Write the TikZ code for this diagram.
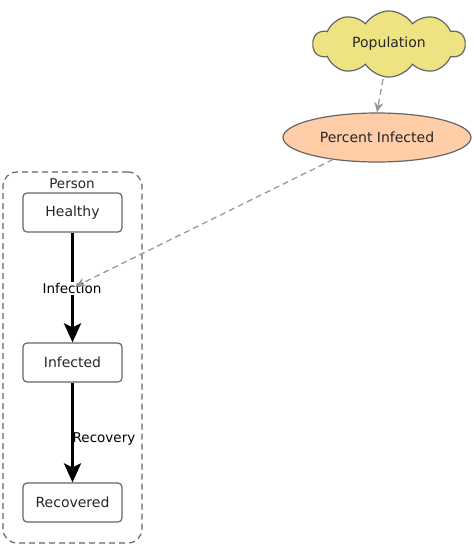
\documentclass[tikz,border=0pt]{standalone}
\usepackage{fontspec}
\setmainfont{DejaVu Sans}
\usetikzlibrary{shapes.symbols,shapes.geometric,arrows.meta,calc}
\definecolor{cloudfill}{HTML}{EEE382}
\definecolor{peach}{HTML}{FFCDA8}
\definecolor{edgegray}{HTML}{666666}
\definecolor{dashgray}{HTML}{999999}
\tikzset{
  txt/.style={font=\fontsize{14}{16}\selectfont, text=black!85},
  statebox/.style={txt, draw=edgegray, line width=1.2pt, rounded corners=4pt, minimum width=99pt, minimum height=39pt, fill=white},
  flow/.style={line width=3pt, -{Stealth[length=19pt,width=17pt,inset=4pt]}},
  influence/.style={draw=dashgray, line width=1.3pt, dash pattern=on 6pt off 4pt, -{Stealth[length=10pt,width=9pt,inset=3pt]}},
  lbl/.style={font=\fontsize{13.5}{15}\selectfont, text=black}
}
\begin{document}
\begin{tikzpicture}[x=1pt,y=-1pt]
\useasboundingbox (0,0) rectangle (474,544);
% group
\node (grp) [draw=edgegray, line width=1.2pt, dash pattern=on 6pt off 4pt, rounded corners=14pt, minimum width=139pt, minimum height=371pt] at (72.5,357.5) {};
\node (grplbl) [txt, font=\fontsize{13.5}{15}\selectfont] at (72,183.5) {Person};
% states
\node (healthy) [statebox] at (72.5,212.5) {Healthy};
\node (infected) [statebox] at (72.5,362.5) {Infected};
\node (recovered) [statebox] at (72.5,502.5) {Recovered};
% flows
\draw[flow] (healthy.south) -- coordinate[pos=0.5] (mid1) (infected.north);
\node (inflbl) [lbl, fill=white, inner sep=1pt] at (72,288.5) {Infection};
\draw[flow] (infected.south) -- (recovered.north);
\node (reclbl) [lbl, anchor=west, inner sep=0pt] at (72.5,438.5) {Recovery};
% population cloud
\node (pop) [cloud, cloud puffs=10, cloud puff arc=115, aspect=2.3, draw=edgegray, line width=1.2pt, fill=cloudfill, minimum width=152pt, minimum height=66pt, txt] at (389,44) {Population};
\node (pct) [ellipse, draw=edgegray, line width=1.2pt, fill=peach, minimum width=188pt, minimum height=49pt, inner sep=0pt, txt] at (377,137.5) {Percent Infected};
\coordinate (popb) at ($(pop.center)+(-6,35)$);
\draw[influence] (popb) -- (pct.north);
\coordinate (pcts) at ($(pct.center)+(-44,22)$);
\draw[influence] (pcts) -- ($(mid1)+(3,-1)$);
\end{tikzpicture}
\end{document}
